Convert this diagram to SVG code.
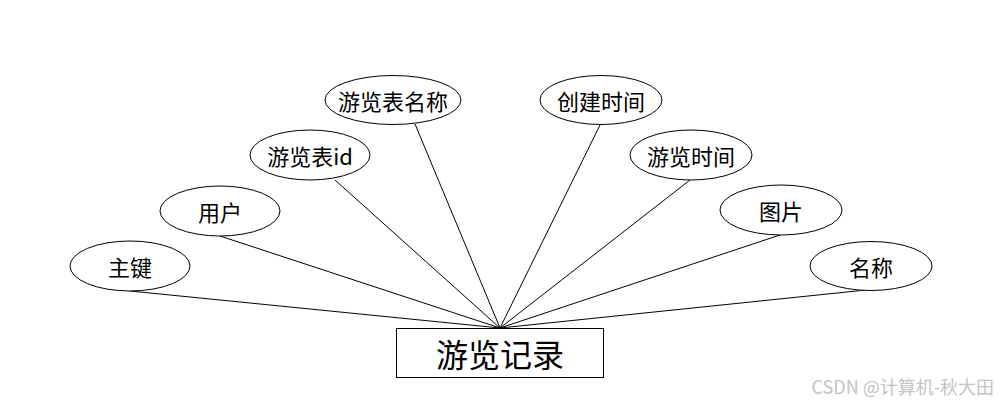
<svg xmlns="http://www.w3.org/2000/svg" width="1000" height="408" viewBox="0 0 1000 408">
<style>
.attr ellipse{fill:#fff;stroke:#000;stroke-width:1}
.t{font-family:"Noto Sans CJK SC","Noto Sans",sans-serif;font-size:22px;fill:#000;text-anchor:middle;dominant-baseline:central}
.conn line{stroke:#000;stroke-width:1}
</style>
<rect width="1000" height="408" fill="#fff"/>
<g class="conn">
<line x1="130" y1="291" x2="500" y2="328"/>
<line x1="220" y1="236" x2="500" y2="328"/>
<line x1="335" y1="180" x2="500" y2="328"/>
<line x1="415" y1="124" x2="500" y2="328"/>
<line x1="600" y1="125" x2="500" y2="328"/>
<line x1="690" y1="180" x2="500" y2="328"/>
<line x1="780" y1="235" x2="500" y2="328"/>
<line x1="866" y1="290" x2="500" y2="328"/>
</g>
<g id="n-zhujian" class="attr"><ellipse cx="130" cy="266" rx="60" ry="25"/><text class="t" x="130" y="266">主键</text></g>
<g id="n-yonghu" class="attr"><ellipse cx="220" cy="211" rx="60" ry="25"/><text class="t" x="220" y="211">用户</text></g>
<g id="n-id" class="attr"><ellipse cx="310" cy="155" rx="60" ry="25"/><text class="t" x="310" y="155">游览表id</text></g>
<g id="n-mingcheng" class="attr"><ellipse cx="393" cy="100" rx="68" ry="24.5"/><text class="t" x="393" y="100">游览表名称</text></g>
<g id="n-chuangjian" class="attr"><ellipse cx="601" cy="100" rx="61" ry="24.5"/><text class="t" x="601" y="100">创建时间</text></g>
<g id="n-youlan" class="attr"><ellipse cx="691" cy="155" rx="61" ry="25"/><text class="t" x="691" y="155">游览时间</text></g>
<g id="n-tupian" class="attr"><ellipse cx="781" cy="210" rx="61" ry="25"/><text class="t" x="781" y="210">图片</text></g>
<g id="n-name" class="attr"><ellipse cx="871" cy="266" rx="61" ry="24.5"/><text class="t" x="871" y="266">名称</text></g>
<g id="n-entity"><rect x="396.5" y="328.5" width="207" height="49" fill="#fff" stroke="#000" stroke-width="1"/><text class="t" x="500" y="353" style="font-size:32px">游览记录</text></g>
<text x="994" y="394" text-anchor="end" style="font-family:'Noto Sans CJK SC','Noto Sans',sans-serif;font-size:18px;fill:#c4c4c4">CSDN @计算机-秋大田</text>
</svg>
